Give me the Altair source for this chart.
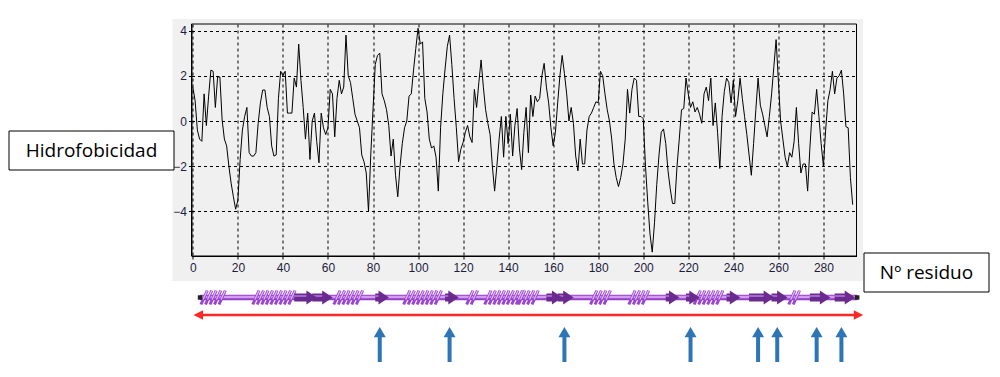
import altair as alt
import pandas as pd

# ---------------- data ----------------
hydro = [
    1.5, 0.9, -0.4, -0.8, -0.9, 1.2, -0.2, 1.1, 2.25, 2.2,
    0.6, 1.95, 1.95, 0.05, -0.8, -1.1, -2.0, -2.75, -3.35, -3.9,
    -3.5, -1.7, -0.4, 0.2, 0.6, -1.4, -1.55, -1.55, -1.4, -0.1,
    0.8, 1.37, 1.37, 0.6, 0.2, -1.1, -1.55, -1.5, 1.0, 2.2,
    2.0, 2.2, 0.35, 0.35, 0.35, 1.9, 1.5, 3.4, 1.8, 0.6,
    -0.8, 0.35, -1.7, 0.0, 0.35, -0.9, -1.85, 0.35, -0.3, -0.6,
    -0.3, 1.4, 1.2, -0.7, 1.0, 1.8, 1.2, 1.5, 3.8, 2.0,
    1.7, 1.0, 0.3, 0.0, -0.3, -1.5, -1.8, -2.3, -4.0, -1.5,
    0.5, 2.5, 2.9, 3.0, 1.2, 0.9, 0.5, -0.2, -1.55, -0.8,
    -2.4, -3.35, -2.0, -1.0, -0.3, 0.0, 1.1, 1.2, 2.25, 3.2,
    4.1, 3.4, 3.5, 1.0, 0.4, -0.8, -1.2, -1.1, -1.6, -3.1,
    -0.3, 1.2, 2.3, 3.3, 3.8, 2.5, 1.0, -0.3, -1.8, -1.25,
    -0.95, -0.5, -0.2, -0.7, -0.95, 1.4, 0.6, 1.7, 2.7, 1.5,
    0.5, -0.1, -0.6, -2.0, -3.1, -2.0, -0.8, 0.2, -1.6, 0.2,
    -1.0, 0.3, -1.55, -0.2, 0.55, -1.2, -2.15, -0.5, 0.6, -1.4,
    1.15, 0.2, 1.1, 0.85, 1.0, 2.0, 2.55, 1.5, 0.8, -0.3,
    -1.1, -0.5, 0.8, 2.0, 2.9, 2.1, 1.2, 0.0, 0.6, -0.1,
    -1.55, -2.2, -0.8, -1.9, -1.9, -0.4, 0.2, 0.35, 0.6, 0.85,
    0.8, 2.2, 2.0, 1.2, 0.5, 0.0, -0.8, -1.9, -2.5, -2.9,
    -2.5, -1.9, -0.8, 1.4, 0.35, 1.4, 1.9, 1.8, 0.2, 0.2,
    0.1, -2.0, -3.6, -5.0, -5.8, -4.5, -2.8, -1.5, -0.5, -0.35,
    -1.0, -2.2, -3.0, -3.65, -3.65, -2.0, -0.8, 0.5, 0.55, 1.9,
    1.2, 0.6, 0.85, 0.4, 0.6, 0.3, -0.1, 1.2, 1.5, 0.9,
    1.9, -0.2, 0.8, -0.5, -2.1, 0.2, 1.3, 1.9, 1.7, 0.8,
    1.8, 0.2, 0.9, 1.9, 1.0, 0.2, -0.6, -1.5, -2.4, -1.0,
    0.5, 1.9, 0.7, 0.3, -0.2, -0.7, 0.2, 1.2, 2.4, 3.6,
    1.8, 0.0, -0.8, -1.6, -2.0, -1.4, -1.6, -0.9, 0.6, -1.0,
    -2.3, -1.9, -1.9, -3.1, -1.2, 0.4, 0.3, 1.4, 0.2, -1.0,
    -2.0, -0.4, 0.9, 1.4, 2.2, 1.2, 1.9, 2.0, 2.25, 1.2,
    -0.25, -0.3, -2.5, -3.7,
]
residues = list(range(len(hydro)))

x_ticks = [0, 20, 40, 60, 80, 100, 120, 140, 160, 180, 200, 220, 240, 260, 280]
y_ticks = [-4, -2, 0, 2, 4]

# secondary structure (residue ranges)
helix_start = [5, 28, 64, 95, 123, 131, 135, 146, 178, 195, 224, 266]
helix_end = [13, 45, 75, 109, 126, 133, 145, 152, 184, 202, 235, 269]
strand_start = [45, 53, 81, 112, 157, 162, 210, 219, 237, 247, 257, 274, 285]
strand_end = [52, 59, 84, 115, 161, 166, 213, 222, 240, 255, 261, 280, 291]
chain_start = [3.2]
chain_end = [295.0]

# blue arrows (residues pointed at)
arrow_res = [83, 114, 165, 221, 251, 259.5, 277, 288]

# ---------------- layout ----------------
W, H = 665, 232
PAD = {"left": 191.5, "top": 24, "right": 143.5, "bottom": 121}
xs = alt.Scale(domain=[-0.6, 294.7], nice=False, zero=False)
ys = alt.Scale(domain=[-5.97, 4.29], nice=False, zero=False)
axis_style = dict(
    title=None, format="d", zindex=1,
    grid=True, gridColor="black", gridDash=[3, 3], gridOpacity=1, gridWidth=1,
    domainColor="black", domainWidth=1, tickColor="black", tickSize=3,
    labelFont="Liberation Sans", labelFontSize=12, labelColor="#1c1c3c",
    labelFlush=False, labelOverlap=False,
)
x_axis = alt.Axis(values=x_ticks, labelPadding=3, **axis_style)
y_axis = alt.Axis(values=y_ticks, labelPadding=2, **axis_style)


def X(field):
    return alt.X(field, type="quantitative", scale=xs, axis=x_axis)


one = pd.DataFrame({"res": [0.0], "h": [0.0]})
df = pd.DataFrame({"res": residues, "h": hydro})

panel = alt.Chart(one).mark_rect(fill="#f0f0f0").encode(
    x=alt.value(-19), x2=alt.value(671.5), y=alt.value(-5), y2=alt.value(257)
)

line = alt.Chart(df).mark_line(color="black", strokeWidth=1).encode(
    x=X("res"),
    y=alt.Y("h:Q", scale=ys, axis=y_axis),
)

frame = alt.Chart(one).mark_rect(fillOpacity=0, stroke="black", strokeWidth=1).encode(
    x=alt.value(0), x2=alt.value(W), y=alt.value(0), y2=alt.value(H)
)

# chain backbone
chain_df = pd.DataFrame({"res": chain_start, "res2": chain_end})
chain_dark = alt.Chart(chain_df).mark_rule(color="#9440c4", strokeWidth=5.5).encode(
    x=X("res"), x2="res2:Q", y=alt.value(273.5)
)
chain_light = alt.Chart(chain_df).mark_rule(color="#d49cf3", strokeWidth=2.5).encode(
    x=X("res"), x2="res2:Q", y=alt.value(273)
)

# helix coils drawn from helix ranges
coil_pos = []
for s, e in zip(helix_start, helix_end):
    r = float(s)
    while r <= e + 0.01:
        coil_pos.append(r)
        r += 2.0
coil_df = pd.DataFrame({"res": coil_pos})
coils = alt.Chart(coil_df).mark_point(
    shape="M-0.45,1L0.45,-1", filled=False, stroke="#9a45d0", strokeWidth=3,
    size=196, opacity=1
).encode(x=X("res"), y=alt.value(273.5))
coils_hi = alt.Chart(coil_df).mark_point(
    shape="M-0.15,0.3L0.45,-1", filled=False, stroke="#e4bcf9", strokeWidth=1.2,
    size=196, opacity=1
).encode(x=X("res"), y=alt.value(273.5))

# strands
strand_df = pd.DataFrame({"res": strand_start, "res2": strand_end})
strand_body = alt.Chart(strand_df).mark_rect(color="#6a2a90").encode(
    x=X("res"), x2="res2:Q", y=alt.value(269.5), y2=alt.value(277.5)
)
strand_hi = alt.Chart(strand_df).mark_rule(color="#b77ee0", strokeWidth=1.5).encode(
    x=X("res"), x2="res2:Q", y=alt.value(272)
)
strand_end_df = pd.DataFrame({"res": strand_end})
strand_head = alt.Chart(strand_end_df).mark_point(
    shape="M-0.5,-1L1,0L-0.5,1Z", filled=True, color="#6a2a90", size=196, opacity=1
).encode(x=X("res"), y=alt.value(273.5))

ends_df = pd.DataFrame({"res": [chain_start[0], chain_end[0]]})
ends = alt.Chart(ends_df).mark_point(
    shape="square", filled=True, color="#222222", size=20, opacity=1
).encode(x=X("res"), y=alt.value(273.5))

# red double-headed arrow (whole chain)
red_df = pd.DataFrame({"res": [2.4], "res2": [295.6]})
red_line = alt.Chart(red_df).mark_rule(color="#ff2626", strokeWidth=2.5).encode(
    x=X("res"), x2="res2:Q", y=alt.value(291)
)
red_l = alt.Chart(pd.DataFrame({"res": [2.4]})).mark_point(
    shape="M1,-1L-1,0L1,1Z", filled=True, color="#ff2626", size=90, opacity=1
).encode(x=X("res"), y=alt.value(291))
red_r = alt.Chart(pd.DataFrame({"res": [295.6]})).mark_point(
    shape="M-1,-1L1,0L-1,1Z", filled=True, color="#ff2626", size=90, opacity=1
).encode(x=X("res"), y=alt.value(291))

# blue arrows
arr_df = pd.DataFrame({"res": arrow_res})
arr_shaft = alt.Chart(arr_df).mark_rule(color="#2e75b6", strokeWidth=4).encode(
    x=X("res"), y=alt.value(312), y2=alt.value(338)
)
arr_head = alt.Chart(arr_df).mark_point(
    shape="M0,-1L1,0.7L-1,0.7Z", filled=True, color="#2e75b6", size=144, opacity=1
).encode(x=X("res"), y=alt.value(309))

# label boxes
box1 = alt.Chart(one).mark_rect(fill="white", stroke="black", strokeWidth=1).encode(
    x=alt.value(-182.5), x2=alt.value(-17.5), y=alt.value(107), y2=alt.value(146)
)
txt1 = alt.Chart(one).mark_text(
    text="Hidrofobicidad", font="Open Sans", fontSize=19, color="black",
    align="center", baseline="middle"
).encode(x=alt.value(-100), y=alt.value(126.5))
box2 = alt.Chart(one).mark_rect(fill="white", stroke="black", strokeWidth=1).encode(
    x=alt.value(672.5), x2=alt.value(797.5), y=alt.value(229), y2=alt.value(268)
)
txt2 = alt.Chart(one).mark_text(
    text="Nº residuo", font="Open Sans", fontSize=19, color="black",
    align="center", baseline="middle"
).encode(x=alt.value(735), y=alt.value(248.5))

chart = alt.layer(
    panel, line, frame,
    chain_dark, chain_light, coils, coils_hi,
    strand_body, strand_hi, strand_head, ends,
    red_line, red_l, red_r, arr_shaft, arr_head,
    box1, txt1, box2, txt2,
).properties(
    width=W, height=H, padding=PAD,
    autosize=alt.AutoSizeParams(type="none"),
    background="white",
).configure_view(
    strokeWidth=0
)

chart.save("out.html", embed_options={"renderer": "svg", "actions": False})
